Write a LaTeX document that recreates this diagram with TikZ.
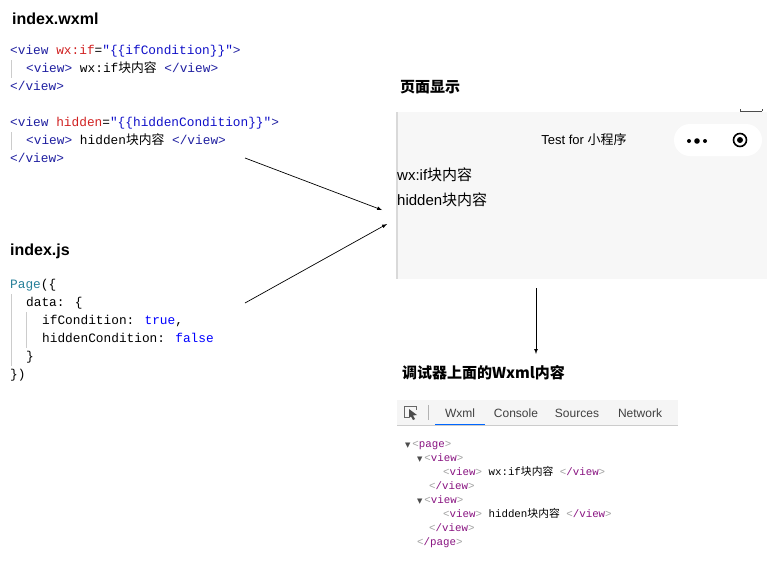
\documentclass[tikz,border=0pt]{standalone}
\usepackage{fontspec}
\setmainfont{Liberation Sans}
\newfontfamily\cjk{Noto Sans CJK SC}
\newfontfamily\code{Liberation Mono}
\newfontfamily\dv{DejaVu Sans}
\definecolor{tagc}{HTML}{1F1FA0}
\definecolor{attr}{HTML}{D02020}
\definecolor{strc}{HTML}{1010C8}
\definecolor{teal}{HTML}{267F99}
\definecolor{kw}{HTML}{0000FF}
\definecolor{ptag}{HTML}{881280}
\definecolor{pgray}{HTML}{A0A0A0}
\tikzset{
 head/.style={anchor=base west,font=\bfseries\fontsize{16}{18}\selectfont,inner sep=0},
 cl/.style={anchor=base west,font=\code\fontsize{12.8}{14}\selectfont,inner sep=0},
 tl/.style={anchor=base west,font=\code\fontsize{10.8}{12}\selectfont,inner sep=0},
 guide/.style={draw=gray!40,line width=0.8pt},
 arr/.style={-latex,line width=0.7pt}
}
\newcommand\zh[1]{{\cjk #1}}
\begin{document}
\begin{tikzpicture}[x=1pt,y=-1pt]
\useasboundingbox (0,0) rectangle (774,571);
% left
\node[head] (h1) at (12,24) {index.wxml};
\node[cl] (c1) at (10,54) {\textcolor{tagc}{<view} \textcolor{attr}{wx:if}=\textcolor{strc}{"\{\{ifCondition\}\}"}\textcolor{tagc}{>}};
\node[cl] (c2) at (26,72) {\textcolor{tagc}{<view>} wx:if\zh{块内容} \textcolor{tagc}{</view>}};
\node[cl] (c3) at (10,90) {\textcolor{tagc}{</view>}};
\node[cl] (c4) at (10,126) {\textcolor{tagc}{<view} \textcolor{attr}{hidden}=\textcolor{strc}{"\{\{hiddenCondition\}\}"}\textcolor{tagc}{>}};
\node[cl] (c5) at (26,144) {\textcolor{tagc}{<view>} hidden\zh{块内容} \textcolor{tagc}{</view>}};
\node[cl] (c6) at (10,162) {\textcolor{tagc}{</view>}};
\draw[guide] (11,60) -- (11,78);
\draw[guide] (11,132) -- (11,150);
\node[head] (h2) at (10,255) {index.js};
\node[cl] (j1) at (10,288) {\textcolor{teal}{Page}(\{};
\node[cl] (j2) at (26,306) {data: \{};
\node[cl] (j3) at (42,324) {ifCondition: \textcolor{kw}{true},};
\node[cl] (j4) at (42,342) {hiddenCondition: \textcolor{kw}{false}};
\node[cl] (j5) at (26,360) {\}};
\node[cl] (j6) at (10,378) {\})};
\draw[guide] (11,294) -- (11,366);
\draw[guide] (26,312) -- (26,348);
% phone
\node[head,font=\cjk\bfseries\fontsize{15}{17}\selectfont] (h3) at (400,92) {页面显示};
\fill[gray!6] (396,112) rectangle (767,279);
\draw[gray!30,line width=1.2pt] (397,112) -- (397,279);
\draw[black!70,line width=0.6pt] (740,111) -- (740,109) (762,111) -- (762,109) (740,111.5) -- (762,111.5);
\node[anchor=base,font=\fontsize{13}{15}\selectfont,inner sep=0] (title) at (584,144) {Test for \zh{小程序}};
\node[draw=none,fill=white,rounded corners=16pt,minimum width=88pt,minimum height=32pt] (cap) at (718,140) {};
\foreach \dx/\r in {-8/2,0/2.8,8/2}{\fill (697+\dx,141) circle (\r);}
\draw[line width=1.6pt] (740,140) circle (6.5);
\fill (740,140) circle (3);
\node[anchor=base west,font=\fontsize{15}{17}\selectfont,inner sep=0] (p1) at (397,180) {wx:if\zh{块内容}};
\node[anchor=base west,font=\fontsize{15}{17}\selectfont,inner sep=0] (p2) at (397,205) {hidden\zh{块内容}};
\coordinate (screen1) at (382,210);
\coordinate (screen2) at (387,224);
\coordinate (s1) at (245,158);
\coordinate (s2) at (245,303);
\draw[arr] (s1) -- (screen1);
\draw[arr] (s2) -- (screen2);
\coordinate (pb) at (536,288);
\coordinate (dt) at (536,354);
\draw[arr] (pb) -- (dt);
% devtools
\node[head,font=\cjk\bfseries\fontsize{15}{17}\selectfont] (h4) at (402,378) {调试器上面的Wxml内容};
\fill[gray!8] (397,400) rectangle (678,425);
\draw[gray!40] (397,425.5) -- (678,425.5);
\draw[gray!60] (428,405) -- (428,420);
\draw[black!60,line width=0.8pt] (409,417) -- (404,417) -- (404,406) -- (416,406) -- (416,410);
\fill[black!70] (409,409) -- (417,415) -- (413,415.5) -- (415,419) -- (413,420) -- (411,416.5) -- (409,418) -- cycle;
\foreach \t/\x in {Wxml/460,Console/516,Sources/577,Network/640}{\node[anchor=base,font=\fontsize{12}{14}\selectfont,text=black!75,inner sep=0] at (\x,417) {\t};}
\draw[blue!60!cyan,line width=1.5pt] (435,424.5) -- (485,424.5);
\newcommand\tg[1]{\textcolor{pgray}{<}\textcolor{ptag}{#1}\textcolor{pgray}{>}}
\node[tl] at (405,447) {\textcolor{black!70}{\dv\scriptsize ▼}\,\tg{page}};
\node[tl] at (417,461) {\textcolor{black!70}{\dv\scriptsize ▼}\,\tg{view}};
\node[tl] at (443,475) {\tg{view} wx:if\zh{块内容} \tg{/view}};
\node[tl] at (429,489) {\tg{/view}};
\node[tl] at (417,503) {\textcolor{black!70}{\dv\scriptsize ▼}\,\tg{view}};
\node[tl] at (443,517) {\tg{view} hidden\zh{块内容} \tg{/view}};
\node[tl] at (429,531) {\tg{/view}};
\node[tl] at (417,545) {\tg{/page}};
\end{tikzpicture}
\end{document}
